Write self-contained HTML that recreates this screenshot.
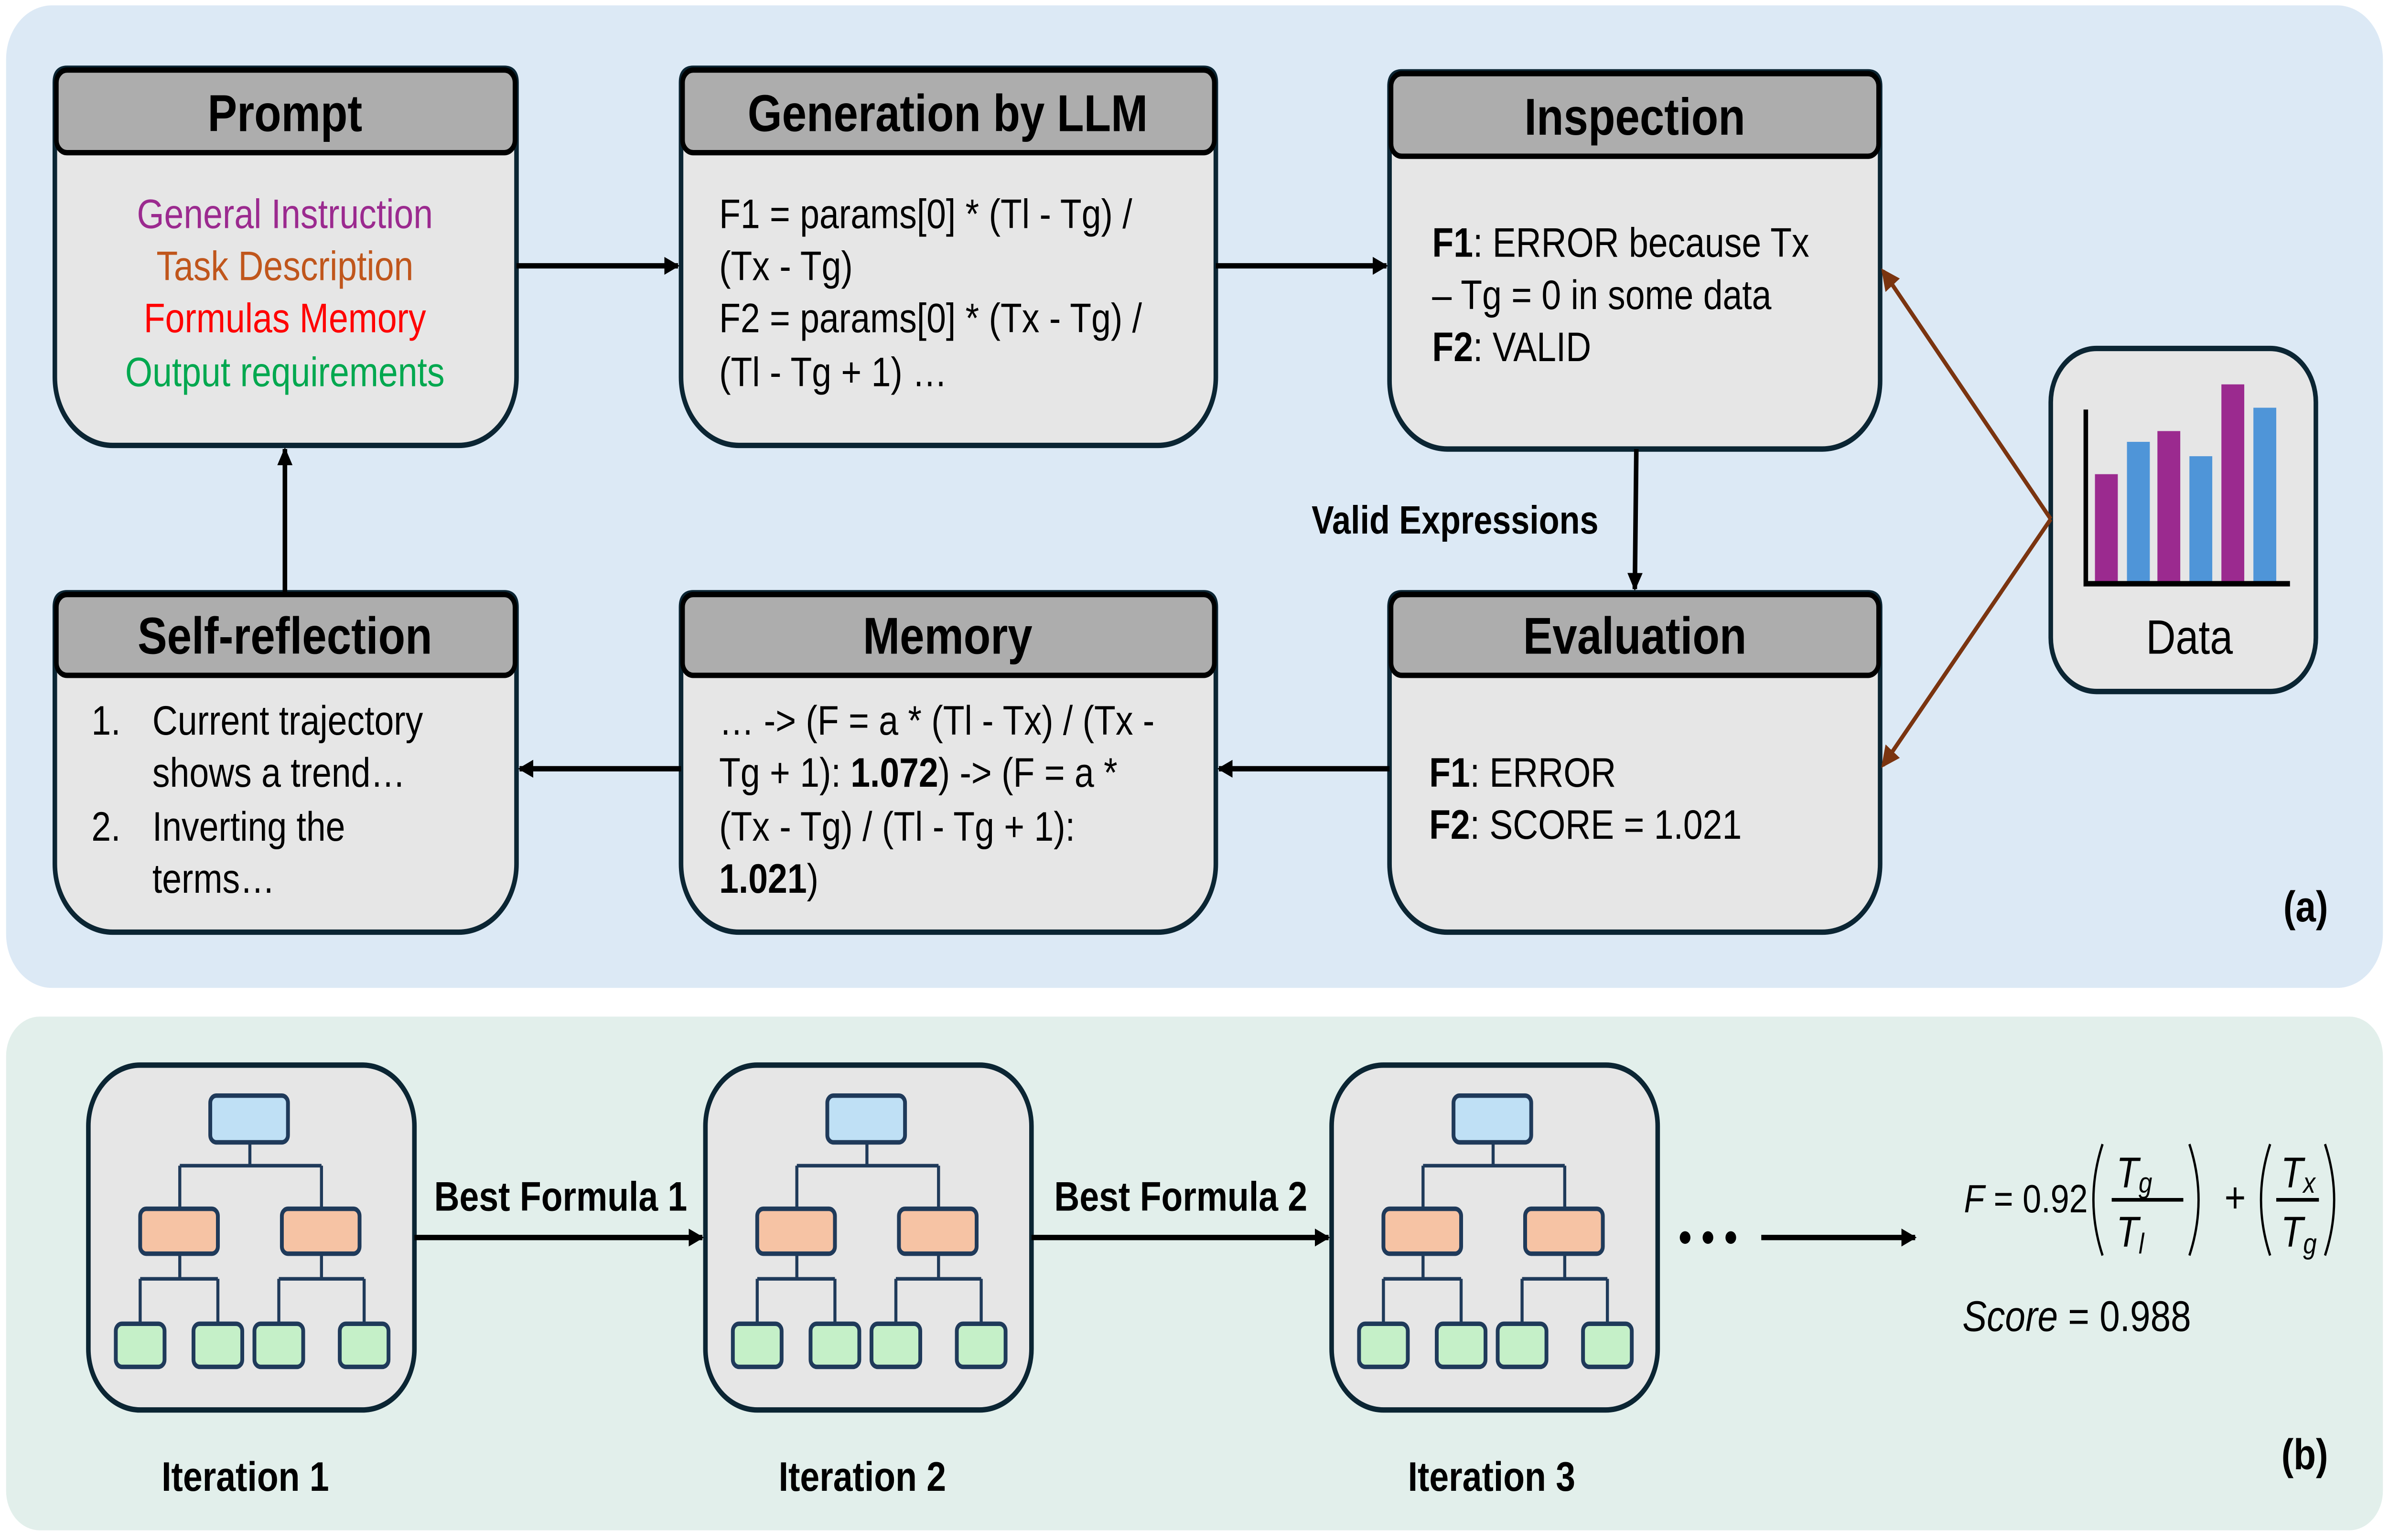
<!DOCTYPE html>
<html><head><meta charset="utf-8"><style>
html,body{margin:0;padding:0;background:#fff;width:100%;height:100%;overflow:hidden}
svg{display:block;width:100vw;height:100vh}
text{font-family:"Liberation Sans",sans-serif}
</style></head><body>
<svg viewBox="0 0 1568 857.4" preserveAspectRatio="none" xmlns="http://www.w3.org/2000/svg">
<defs>
<marker id="ah" markerWidth="10" markerHeight="10" refX="9" refY="5" orient="auto" markerUnits="userSpaceOnUse"><path d="M0,0 L10,5 L0,10 Z" fill="#000"/></marker>
<marker id="ahb" markerWidth="12" markerHeight="12" refX="10" refY="6" orient="auto" markerUnits="userSpaceOnUse"><path d="M0,0 L12,6 L0,12 Z" fill="#7a3410"/></marker>
<g id="tree">
<rect x="0" y="0" width="214" height="192" rx="34" fill="#e6e6e6" stroke="#0b2533" stroke-width="3"/>
<g stroke="#1f3a5a" stroke-width="2" fill="none">
<path d="M106,43 V56 M60,56 H153 M60,56 V80 M153,56 V80"/>
<path d="M60,105 V119 M34,119 H85 M34,119 V144 M85,119 V144"/>
<path d="M153,105 V119 M125,119 H181 M125,119 V144 M181,119 V144"/>
</g>
<g stroke="#1f3a5a" stroke-width="2.5">
<rect x="80" y="17" width="51" height="26" rx="4" fill="#bfe0f5"/>
<rect x="34" y="80" width="51" height="25" rx="4" fill="#f6c3a4"/>
<rect x="127" y="80" width="51" height="25" rx="4" fill="#f6c3a4"/>
<rect x="18" y="144" width="32" height="24" rx="4" fill="#c5f0c8"/>
<rect x="69" y="144" width="32" height="24" rx="4" fill="#c5f0c8"/>
<rect x="109" y="144" width="32" height="24" rx="4" fill="#c5f0c8"/>
<rect x="165" y="144" width="32" height="24" rx="4" fill="#c5f0c8"/>
</g>
</g>
</defs>
<rect x="4" y="3" width="1560" height="547" rx="30" fill="#dce9f5"/>
<rect x="4" y="566" width="1560" height="286" rx="22" fill="#e2efeb"/>

<g stroke="#0b2533" stroke-width="3" fill="#e6e6e6">
<path d="M44,38 H331 Q339,38 339,46 V210 A38,38 0 0 1 301,248 H74 A38,38 0 0 1 36,210 V46 Q36,38 44,38 Z"/>
<path d="M455,38 H790 Q798,38 798,46 V210 A38,38 0 0 1 760,248 H485 A38,38 0 0 1 447,210 V46 Q447,38 455,38 Z"/>
<path d="M920,40 H1226 Q1234,40 1234,48 V212 A38,38 0 0 1 1196,250 H950 A38,38 0 0 1 912,212 V48 Q912,40 920,40 Z"/>
<path d="M44,330 H331 Q339,330 339,338 V481 A38,38 0 0 1 301,519 H74 A38,38 0 0 1 36,481 V338 Q36,330 44,330 Z"/>
<path d="M455,330 H790 Q798,330 798,338 V481 A38,38 0 0 1 760,519 H485 A38,38 0 0 1 447,481 V338 Q447,330 455,330 Z"/>
<path d="M920,330 H1226 Q1234,330 1234,338 V481 A38,38 0 0 1 1196,519 H950 A38,38 0 0 1 912,481 V338 Q912,330 920,330 Z"/>
<rect x="1346" y="194" width="174" height="191" rx="30"/>
</g>
<g stroke="#000" stroke-width="3" fill="#adadad">
<rect x="37" y="39" width="301" height="46" rx="7"/>
<rect x="448" y="39" width="349" height="46" rx="7"/>
<rect x="913" y="41" width="320" height="46" rx="7"/>
<rect x="37" y="331" width="301" height="45" rx="7"/>
<rect x="448" y="331" width="349" height="45" rx="7"/>
<rect x="913" y="331" width="320" height="45" rx="7"/>
</g>
<g font-weight="bold" font-size="29" text-anchor="middle" fill="#000">
<text x="187" y="73">Prompt</text>
<text x="622" y="73">Generation by LLM</text>
<text x="1073" y="75">Inspection</text>
<text x="187" y="364">Self-reflection</text>
<text x="622" y="364">Memory</text>
<text x="1073" y="364">Evaluation</text>
</g>
<g font-size="23" text-anchor="middle">
<text x="187" y="127" fill="#9b2a8f">General Instruction</text>
<text x="187" y="156" fill="#c0561c">Task Description</text>
<text x="187" y="185" fill="#ff0000">Formulas Memory</text>
<text x="187" y="215" fill="#00a84f">Output requirements</text>
</g>
<g font-size="23" fill="#000">
<text x="472" y="127">F1 = params[0] * (Tl - Tg) /</text>
<text x="472" y="156">(Tx - Tg)</text>
<text x="472" y="185">F2 = params[0] * (Tx - Tg) /</text>
<text x="472" y="215">(Tl - Tg + 1) …</text>
<text x="940" y="143"><tspan font-weight="bold">F1</tspan>: ERROR because Tx</text>
<text x="940" y="172">– Tg = 0 in some data</text>
<text x="940" y="201"><tspan font-weight="bold">F2</tspan>: VALID</text>
<text x="60" y="409">1.</text><text x="100" y="409">Current trajectory</text>
<text x="100" y="438">shows a trend…</text>
<text x="60" y="468">2.</text><text x="100" y="468">Inverting the</text>
<text x="100" y="497">terms…</text>
<text x="472" y="409">… -&gt; (F = a * (Tl - Tx) / (Tx -</text>
<text x="472" y="438">Tg + 1): <tspan font-weight="bold">1.072</tspan>) -&gt; (F = a *</text>
<text x="472" y="468">(Tx - Tg) / (Tl - Tg + 1):</text>
<text x="472" y="497"><tspan font-weight="bold">1.021</tspan>)</text>
<text x="938" y="438"><tspan font-weight="bold">F1</tspan>: ERROR</text>
<text x="938" y="467"><tspan font-weight="bold">F2</tspan>: SCORE = 1.021</text>
</g>
<text x="955" y="297" font-size="22" font-weight="bold" text-anchor="middle">Valid Expressions</text>
<text x="1528" y="513" font-size="24" font-weight="bold" text-anchor="end">(a)</text>
<text x="1528" y="818" font-size="24" font-weight="bold" text-anchor="end">(b)</text>
<g>
<rect x="1375" y="264" width="15" height="61" fill="#9b2a8f"/>
<rect x="1396" y="246" width="15" height="79" fill="#4f95d8"/>
<rect x="1416" y="240" width="15" height="85" fill="#9b2a8f"/>
<rect x="1437" y="254" width="15" height="71" fill="#4f95d8"/>
<rect x="1458" y="214" width="15" height="111" fill="#9b2a8f"/>
<rect x="1479" y="227" width="15" height="98" fill="#4f95d8"/>
<path d="M1369,228 V325 H1503" stroke="#000" stroke-width="3" fill="none"/>
<text x="1437" y="364" font-size="27" text-anchor="middle">Data</text>
</g>
<g stroke="#000" stroke-width="3" fill="none">
<line x1="339" y1="148" x2="445" y2="148" marker-end="url(#ah)"/>
<line x1="798" y1="148" x2="910" y2="148" marker-end="url(#ah)"/>
<line x1="1074" y1="250" x2="1073" y2="328" marker-end="url(#ah)"/>
<line x1="912" y1="428" x2="800" y2="428" marker-end="url(#ah)"/>
<line x1="447" y1="428" x2="341" y2="428" marker-end="url(#ah)"/>
<line x1="187" y1="330" x2="187" y2="250" marker-end="url(#ah)"/>
</g>
<g stroke="#7a3410" stroke-width="2.5" fill="none">
<line x1="1346" y1="289" x2="1236" y2="151" marker-end="url(#ahb)"/>
<line x1="1346" y1="289" x2="1236" y2="426" marker-end="url(#ahb)"/>
</g>
<use href="#tree" x="58" y="593"/>
<use href="#tree" x="463" y="593"/>
<use href="#tree" x="874" y="593"/>
<g font-size="23" font-weight="bold" text-anchor="middle">
<text x="161" y="830">Iteration 1</text>
<text x="566" y="830">Iteration 2</text>
<text x="979" y="830">Iteration 3</text>
<text x="368" y="674">Best Formula 1</text>
<text x="775" y="674">Best Formula 2</text>
</g>
<g stroke="#000" stroke-width="3">
<line x1="272" y1="689" x2="461" y2="689" marker-end="url(#ah)"/>
<line x1="677" y1="689" x2="872" y2="689" marker-end="url(#ah)"/>
<line x1="1156" y1="689" x2="1257" y2="689" marker-end="url(#ah)"/>
</g>
<g fill="#000"><circle cx="1106" cy="689" r="3.5"/><circle cx="1121" cy="689" r="3.5"/><circle cx="1136" cy="689" r="3.5"/></g>
<g font-family="Liberation Serif, serif" font-size="22" fill="#000">
<text x="1289" y="675"><tspan font-style="italic">F</tspan> = 0.92</text>
<path d="M1380,637 Q1368,668 1380,699" stroke="#000" stroke-width="1.5" fill="none"/>
<path d="M1437,637 Q1449,668 1437,699" stroke="#000" stroke-width="1.5" fill="none"/>
<text x="1389" y="661" font-size="24" font-style="italic">T<tspan font-size="16" dy="3">g</tspan></text>
<line x1="1386" y1="668" x2="1433" y2="668" stroke="#000" stroke-width="2"/>
<text x="1389" y="694" font-size="24" font-style="italic">T<tspan font-size="16" dy="4">l</tspan></text>
<text x="1460" y="675" font-size="24">+</text>
<path d="M1490,637 Q1478,668 1490,699" stroke="#000" stroke-width="1.5" fill="none"/>
<path d="M1526,637 Q1538,668 1526,699" stroke="#000" stroke-width="1.5" fill="none"/>
<text x="1497" y="661" font-size="24" font-style="italic">T<tspan font-size="16" dy="3">x</tspan></text>
<line x1="1494" y1="668" x2="1522" y2="668" stroke="#000" stroke-width="2"/>
<text x="1497" y="694" font-size="24" font-style="italic">T<tspan font-size="16" dy="4">g</tspan></text>
<text x="1288" y="741" font-size="24"><tspan font-style="italic">Score</tspan> = 0.988</text>
</g>
</svg>
</body></html>
